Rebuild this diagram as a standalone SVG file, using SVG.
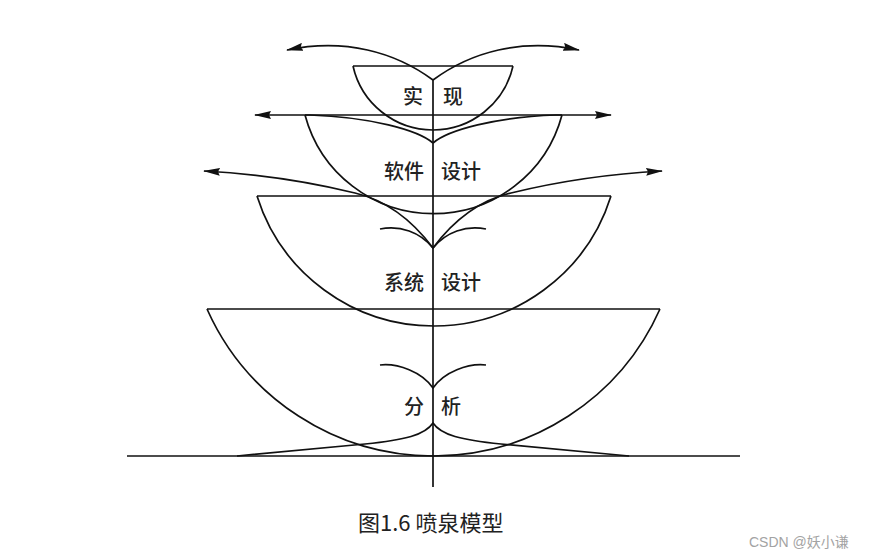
<svg xmlns="http://www.w3.org/2000/svg" width="869" height="558" viewBox="0 0 869 558">
<style>
.ln{fill:none;stroke:#111;stroke-width:1.7;stroke-linejoin:round}
.arr{fill:none;stroke:#111;stroke-width:1.7;marker-end:url(#ah)}
.lbl{font-family:"Noto Sans CJK SC",sans-serif;font-size:20px;font-weight:500;fill:#222;text-anchor:middle}
.cap{font-family:"Noto Sans CJK SC",sans-serif;font-size:22px;fill:#222}
.wm{font-family:"Liberation Sans","Noto Sans CJK SC",sans-serif;font-size:14px;fill:#a3a3a3}
</style>
<defs>
<marker id="ah" viewBox="0 0 17 8" markerWidth="17" markerHeight="8" refX="16" refY="4" orient="auto" markerUnits="userSpaceOnUse">
<path d="M0,0 L17,4 L0,8 L2,4 Z" fill="#111"/>
</marker>
</defs>
<rect width="869" height="558" fill="#fff"/>

<g id="bowl-analysis">
<path class="ln" d="M207,309 L660,309 M207,309 A248,248 0 0 0 660,309"/>
<text class="lbl" x="414" y="414">分</text>
<text class="lbl" x="451" y="414">析</text>
</g>
<g id="bowl-system-design">
<path class="ln" d="M257,196 L611,196 M257,196 A185.5,185.5 0 0 0 611,196"/>
<text class="lbl" x="404" y="290">系统</text>
<text class="lbl" x="461" y="290">设计</text>
</g>
<g id="bowl-software-design">
<path class="ln" d="M305,115 L562,115 M305,115 A133,133 0 0 0 562,115"/>
<text class="lbl" x="404" y="179">软件</text>
<text class="lbl" x="461" y="179">设计</text>
</g>
<g id="bowl-implementation">
<path class="ln" d="M353,66 L513,66 M353,66 A82,82 0 0 0 513,66"/>
<text class="lbl" x="413" y="104">实</text>
<text class="lbl" x="453" y="104">现</text>
</g>

<g id="connectors">
<path class="ln" d="M433,80 L433,487"/>
<path class="ln" d="M127,456 L740,456"/>
<path class="arr" d="M433,80 C395,52 345,38 287,50"/>
<path class="arr" d="M433,80 C471,52 521,38 579,50"/>
<path class="arr" d="M433,143 C418,130 370,117 310,115 L255,115"/>
<path class="arr" d="M433,143 C448,130 496,117 556,115 L611,115"/>
<path class="arr" d="M433,248 C412,220 385,200 355,193 C310,182 260,174 204,171"/>
<path class="arr" d="M433,248 C454,220 481,200 511,193 C556,182 606,174 662,171"/>
<path class="ln" d="M380,229 C400,225 420,232 433,248 C446,232 466,225 486,229"/>
<path class="ln" d="M380,365 C398,363 422,372 433,388 C444,372 468,363 486,365"/>
<path class="ln" d="M237,456 L365,444 C405,440 425,435 433,423 C441,435 461,440 501,444 L629,456"/>
</g>

<text class="cap" x="358" y="531">图1.6 喷泉模型</text>
<text class="wm" x="749" y="547">CSDN @妖小谦</text>
</svg>
